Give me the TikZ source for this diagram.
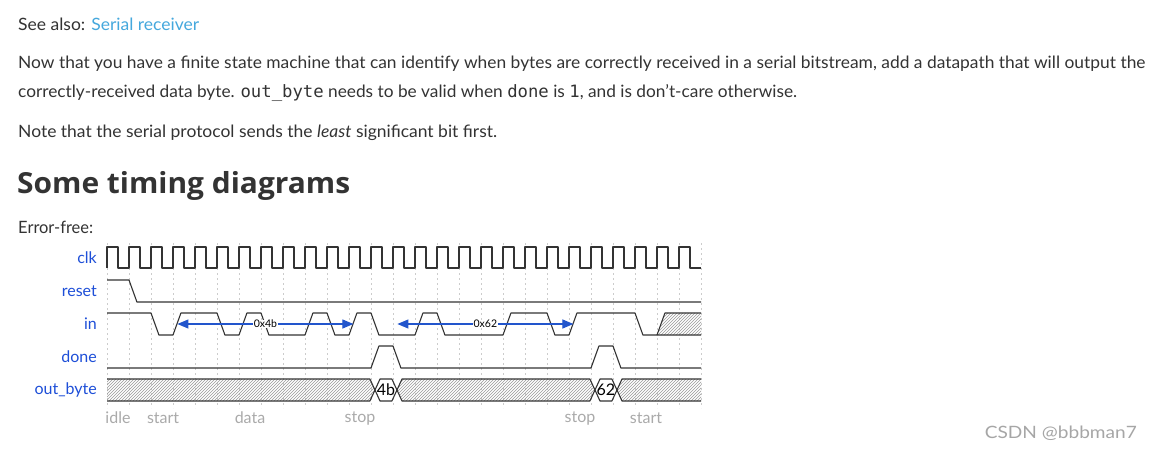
\documentclass[tikz,border=0pt]{standalone}
\usepackage{fontspec}
\setmainfont{Lato}
\setmonofont{DejaVu Sans Mono}
\newfontfamily\headfont{Open Sans}
\usetikzlibrary{patterns,arrows.meta,calc}
\definecolor{txt}{HTML}{333333}
\definecolor{lnk}{HTML}{45A8DD}
\definecolor{sig}{HTML}{1E4FD8}
\definecolor{arr}{HTML}{2255CC}
\definecolor{wave}{HTML}{333333}
\definecolor{lbl}{HTML}{AAAAAA}
\begin{document}
\begin{tikzpicture}[x=1pt,y=-1pt,
  txtline/.style={anchor=west,inner sep=0pt,text=txt,font=\fontsize{17}{19}\selectfont},
  siglbl/.style={anchor=east,inner sep=0pt,text=sig,font=\fontsize{16}{18}\selectfont},
  phase/.style={inner sep=0pt,text=lbl,font=\fontsize{16}{18}\selectfont},
  wv/.style={draw=wave,line width=1.1pt,line join=round},
  hatch/.style={pattern=north east lines,pattern color=gray!80},
  grid/.style={draw=gray!40,dash pattern=on 2pt off 3pt,line width=0.6pt},
  span/.style={draw=arr,line width=1.1pt,{Stealth[length=11pt,width=9pt,inset=0pt]}-{Stealth[length=11pt,width=9pt,inset=0pt]}},
  spanlbl/.style={inner sep=0.5pt,fill=white,text=black,font=\fontsize{10.5}{12}\selectfont}]
\useasboundingbox (0,0) rectangle (1152,450);
\fill[white] (0,0) rectangle (1152,450);
\node[txtline] (see) at (18,24) {\resizebox{181pt}{\height}{See also: \textcolor{lnk}{Serial receiver}}};
\node[txtline] (p1) at (18,64) {\resizebox{1127pt}{\height}{Now that you have a finite state machine that can identify when bytes are correctly received in a serial bitstream, add a datapath that will output the}};
\node[txtline] (p2) at (18,93) {\resizebox{779pt}{\height}{correctly-received data byte. \texttt{out\_byte} needs to be valid when \texttt{done} is \texttt{1}, and is don't-care otherwise.}};
\node[txtline] (p3) at (18,133) {\resizebox{479pt}{\height}{Note that the serial protocol sends the \emph{least} significant bit first.}};
\node[anchor=west,inner sep=0pt,text=txt,font=\headfont\bfseries\fontsize{29}{32}\selectfont] (head) at (17,186) {\resizebox{333pt}{\height}{Some timing diagrams}};
\node[txtline] (ef) at (18,227) {\resizebox{75pt}{\height}{Error-free:}};
\node[anchor=east,inner sep=0pt,text=gray!70,font=\fontsize{17}{19}\selectfont] (wm) at (1137,433) {\resizebox{152pt}{\height}{CSDN @bbbman7}};
% labels
\node[siglbl] (lclk) at (97,258) {clk};
\node[siglbl] (lrst) at (97,291) {reset};
\node[siglbl] (lin) at (97,324) {in};
\node[siglbl] (ldone) at (97,357) {done};
\node[siglbl] (lout) at (97,390) {out\_byte};
\begin{scope}[xshift=107pt,x=22pt]
\foreach \k in {0,...,27} \draw[grid] (\k,243) -- (\k,408);
% clock
\draw[wv] (0,268) \foreach \k in {0,...,26} { -- (\k,268) -- (\k,247) -- (\k+0.5,247) -- (\k+0.5,268) } -- (27,268);
% reset
\draw[wv] (0,280) -- (1,280) -- (1.36,302) -- (27,302);
% in
\fill[hatch] (25,335) -- (25.36,313) -- (27,313) -- (27,335) -- cycle;
\draw[wv] (0,313)--(2,313)--(2.36,335)--(3,335)--(3.36,313)--(5,313)--(5.36,335)--(6,335)--(6.36,313)--(7,313)--(7.36,335)--(9,335)--(9.36,313)--(10,313)--(10.36,335)--(11,335)--(11.36,313)--(12,313)--(12.36,335)--(14,335)--(14.36,313)--(15,313)--(15.36,335)--(18,335)--(18.36,313)--(20,313)--(20.36,335)--(21,335)--(21.36,313)--(24,313)--(24.36,335)--(27,335);
\draw[wv] (25,335) -- (25.36,313) -- (27,313);
% done
\draw[wv] (0,368)--(12,368)--(12.36,346)--(13,346)--(13.36,368)--(22,368)--(22.36,346)--(23,346)--(23.36,368)--(27,368);
% out_byte
\fill[hatch] (0,379) -- (11.95,379) -- (12.18,390) -- (11.95,401) -- (0,401) -- cycle;
\fill[hatch] (13.41,379) -- (21.95,379) -- (22.18,390) -- (21.95,401) -- (13.41,401) -- (13.18,390) -- cycle;
\fill[hatch] (23.41,379) -- (27,379) -- (27,401) -- (23.41,401) -- (23.18,390) -- cycle;
\draw[wv] (0,379) -- (11.95,379) -- (12.41,401) -- (12.95,401) -- (13.41,379) -- (21.95,379) -- (22.41,401) -- (22.95,401) -- (23.41,379) -- (27,379);
\draw[wv] (0,401) -- (11.95,401) -- (12.41,379) -- (12.95,379) -- (13.41,401) -- (21.95,401) -- (22.41,379) -- (22.95,379) -- (23.41,401) -- (27,401);
\node[inner sep=0pt,font=\fontsize{16}{18}\selectfont] (v4b) at (12.68,390) {4b};
\node[inner sep=0pt,font=\fontsize{16}{18}\selectfont] (v62) at (22.68,390) {62};
% spans
\coordinate (a1) at (3.2,324); \coordinate (b1) at (11.2,324);
\coordinate (a2) at (13.2,324); \coordinate (b2) at (21.2,324);
\draw[span] (a1) -- (b1);
\draw[span] (a2) -- (b2);
\node[spanlbl] (s1) at ($(a1)!0.5!(b1)$) {0x4b};
\node[spanlbl] (s2) at ($(a2)!0.5!(b2)$) {0x62};
% phases
\node[phase] (ph1) at (0.5,418) {idle};
\node[phase] (ph2) at (2.55,418) {start};
\node[phase] (ph3) at (6.5,418) {data};
\node[phase] (ph4) at (11.5,418) {stop};
\node[phase] (ph5) at (21.5,418) {stop};
\node[phase] (ph6) at (24.5,418) {start};
\end{scope}
\end{tikzpicture}
\end{document}
